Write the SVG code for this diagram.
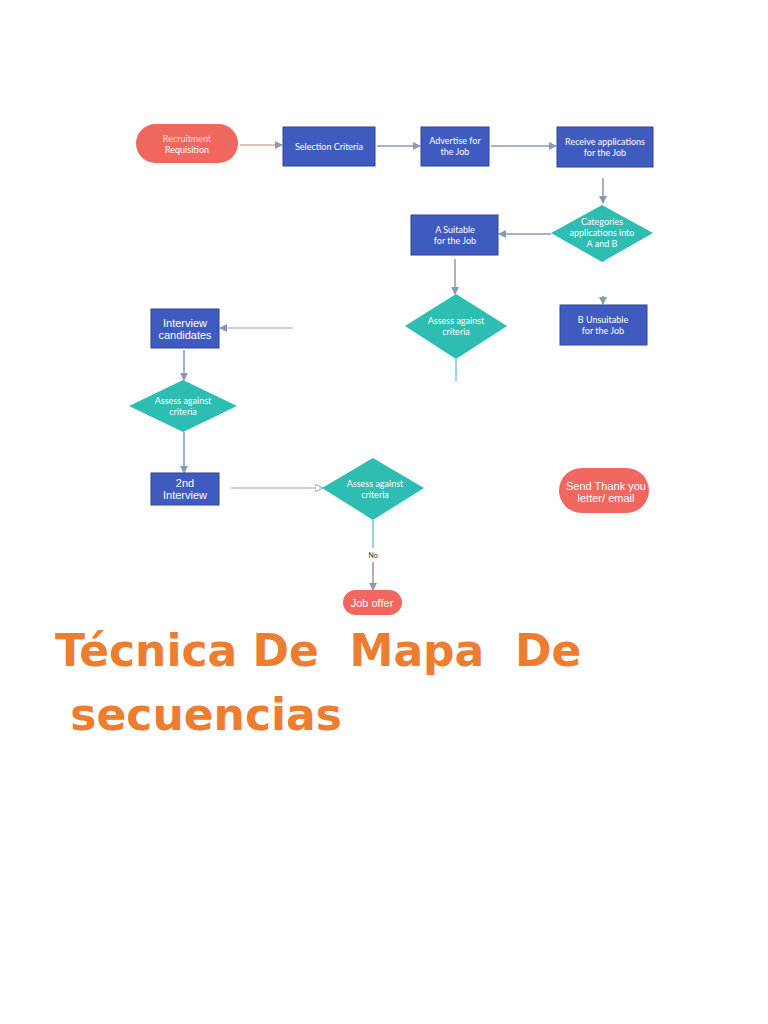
<svg xmlns="http://www.w3.org/2000/svg" width="768" height="1024" viewBox="0 0 768 1024">
<style>
.rect{fill:#3F5BBF;stroke:#2E4595;stroke-width:1}
.dia{fill:#2DBDB2}
.pill{fill:#F0675F}
.t{font-family:Lato,"Liberation Sans",sans-serif;font-size:9px;fill:#fff;text-anchor:middle}
.tb{font-family:"Liberation Sans",sans-serif;font-size:11px;fill:#fff;text-anchor:middle}
.c{stroke:#8A97B5;stroke-width:1.5;fill:none}
.title{font-family:"DejaVu Sans",sans-serif;font-weight:bold;font-size:44px;fill:#ED7D31;white-space:pre}
</style>
<defs>
<marker id="a" markerWidth="8" markerHeight="8" refX="7" refY="4" orient="auto" markerUnits="userSpaceOnUse"><path d="M0,0 L8,4 L0,8 Z" fill="#8A97B5"/></marker>
<marker id="o" markerWidth="8" markerHeight="8" refX="7" refY="4" orient="auto" markerUnits="userSpaceOnUse"><path d="M0,0 L8,4 L0,8 Z" fill="#fff" stroke="#8A97B5"/></marker>
</defs>
<rect width="768" height="1024" fill="#fff"/>
<g id="connectors">
<line class="c" x1="240" y1="145" x2="282" y2="145" marker-end="url(#a)" style="stroke:#F0A0A0"/>
<line class="c" x1="377" y1="146" x2="420" y2="146" marker-end="url(#a)"/>
<line class="c" x1="491" y1="146" x2="556" y2="146" marker-end="url(#a)"/>
<line class="c" x1="603" y1="178" x2="603" y2="203" marker-end="url(#a)"/>
<line class="c" x1="551" y1="234" x2="499" y2="234" marker-end="url(#a)"/>
<line class="c" x1="455" y1="259" x2="455" y2="294" marker-end="url(#a)"/>
<line class="c" x1="456" y1="359" x2="456" y2="381" style="stroke:#6CCFC6"/>
<line class="c" x1="603" y1="296" x2="603" y2="304" marker-end="url(#a)"/>
<line class="c" x1="293" y1="328" x2="220" y2="328" marker-end="url(#a)" style="stroke:#B8C2D8"/>
<line class="c" x1="184" y1="350" x2="184" y2="380" marker-end="url(#a)"/>
<line class="c" x1="184" y1="432" x2="184" y2="473" marker-end="url(#a)"/>
<line class="c" x1="231" y1="488" x2="322" y2="488" marker-end="url(#o)" style="stroke:#B8C2D8"/>
<line class="c" x1="373" y1="520" x2="373" y2="548" style="stroke:#6CCFC6"/>
<line class="c" x1="373" y1="562" x2="373" y2="590" marker-end="url(#a)" style="stroke:#B08A8A"/>
<text x="373" y="558" font-family="Lato,'Liberation Sans',sans-serif" font-size="7" text-anchor="middle" fill="#333">No</text>
</g>
<g id="n1"><rect class="pill" x="136" y="124" width="102" height="39" rx="19.5"/><text class="t" x="187" y="142" fill-opacity=".8">Recruitment</text><text class="t" x="187" y="153">Requisition</text></g>
<g id="n2"><rect class="rect" x="283" y="127" width="92" height="39"/><text class="t" x="329" y="150">Selection Criteria</text></g>
<g id="n3"><rect class="rect" x="421" y="127" width="68" height="39"/><text class="t" x="455" y="144">Advertise for</text><text class="t" x="455" y="155">the Job</text></g>
<g id="n4"><rect class="rect" x="557" y="127" width="96" height="40"/><text class="t" x="605" y="145">Receive applications</text><text class="t" x="605" y="156">for the Job</text></g>
<g id="n5"><polygon class="dia" points="602,205 653,233 602,262 551,233"/><text class="t" x="602" y="225">Categories</text><text class="t" x="602" y="236">applications into</text><text class="t" x="602" y="247">A and B</text></g>
<g id="n6"><rect class="rect" x="411" y="215" width="87" height="40"/><text class="t" x="455" y="233">A Suitable</text><text class="t" x="455" y="244">for the Job</text></g>
<g id="n7"><polygon class="dia" points="456,294 507,326 456,359 405,326"/><text class="t" x="456" y="324">Assess against</text><text class="t" x="456" y="335">criteria</text></g>
<g id="n8"><rect class="rect" x="560" y="305" width="87" height="40"/><text class="t" x="603" y="323">B Unsuitable</text><text class="t" x="603" y="334">for the Job</text></g>
<g id="n9"><rect class="rect" x="151" y="309" width="68" height="39"/><text class="tb" x="185" y="327">Interview</text><text class="tb" x="185" y="339">candidates</text></g>
<g id="n10"><polygon class="dia" points="183,380 237,406 183,432 129,406"/><text class="t" x="183" y="404">Assess against</text><text class="t" x="183" y="415">criteria</text></g>
<g id="n11"><rect class="rect" x="151" y="473" width="68" height="32"/><text class="tb" x="185" y="487">2nd</text><text class="tb" x="185" y="499">Interview</text></g>
<g id="n12"><polygon class="dia" points="373,458 424,488 373,520 322,488"/><text class="t" x="375" y="487">Assess against</text><text class="t" x="375" y="498">criteria</text></g>
<g id="n13"><rect class="pill" x="343" y="590" width="59" height="25" rx="12.5"/><text class="tb" x="372" y="607">Job offer</text></g>
<g id="n14"><rect class="pill" x="559" y="468" width="90" height="45" rx="22.5"/><text class="tb" x="606" y="490">Send Thank you</text><text class="tb" x="606" y="502">letter/ email</text></g>
<text class="title" x="55" y="666">Técnica De  Mapa  De</text>
<text class="title" x="55" y="730"> secuencias</text>
</svg>
